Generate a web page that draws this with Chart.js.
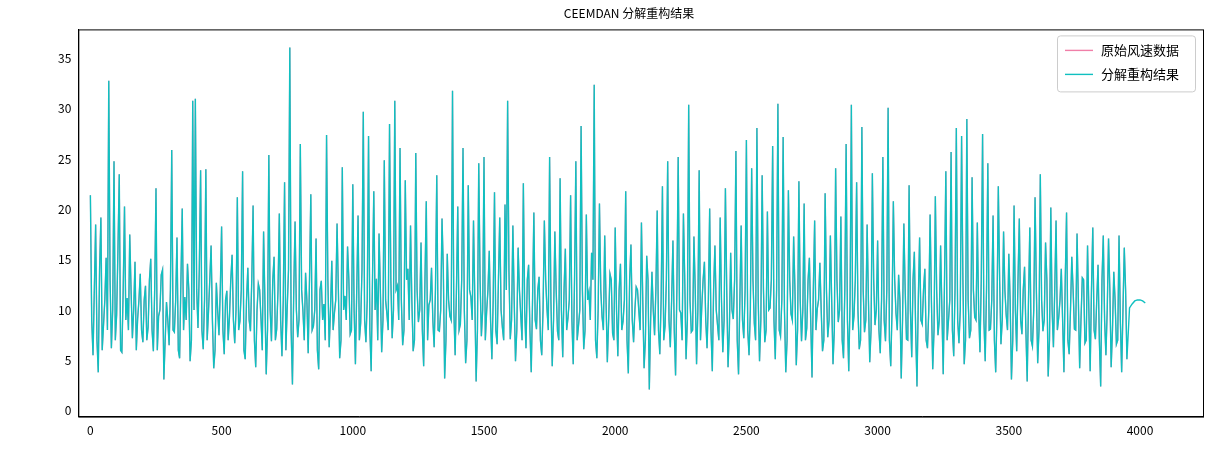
<!DOCTYPE html>
<html>
<head>
<meta charset="utf-8">
<script src="https://cdn.jsdelivr.net/npm/chart.js@4"></script>
<style>
  html, body { margin: 0; padding: 0; background: #fff; }
  #wrap { width: 1208px; height: 451px; }
</style>
</head>
<body>
<div id="wrap"><canvas id="c"></canvas></div>
<script>
// 风速序列，每 10 个采样点取一个
const STEP = 10;
const windSpeed = [
  21.4,5.5,18.5,3.8,19.2,8.5,15.2,32.8,6.2,24.8,9.5,23.5,5.8,20.3,11.2,17.5,7.2,14.8,9.1,13.6,
  6.8,12.4,8.3,15.1,5.9,22.1,9.4,13.5,3.1,10.8,6.5,25.9,7.8,17.2,5.2,20.1,11.3,14.6,4.9,30.8,
  31,8.2,23.9,6.1,24,9.8,16.4,4.2,12.7,7.5,18.3,5.6,11.9,9.3,15.5,6.7,21.2,8.9,23.8,5.1,
  14.2,7.9,20.4,4.3,12.6,9.2,17.8,3.6,25.4,6.9,15.3,8.1,19.6,5.4,22.7,10.2,36.1,2.6,18.8,7.3,
  26.5,9.9,13.7,5.7,21.5,8.4,17.1,4.1,12.9,10.6,27.4,6.3,14.9,9.7,18.6,5.2,24.2,11.4,16.3,7.6,
  22.5,4.6,19.4,8.7,29.7,6.8,27.3,3.9,21.8,13.1,17.6,5.8,24.9,9.6,28.5,7.2,30.8,12.4,26.1,6.5,
  22.9,14.1,18.4,5.9,25.6,8.8,16.7,4.4,20.8,10.5,14.2,6.3,23.4,7.9,19.1,3.2,15.6,9.4,31.8,5.5,
  20.3,8.6,26.1,4.7,22.4,11.3,18.9,2.9,24.6,7.4,25.2,9.8,15.9,5.1,21.7,6.6,19.2,8.3,20.5,30.8,
  7.1,18.4,4.9,16.2,9.5,22.6,6.2,14.5,3.8,19.7,8.1,13.3,5.5,18.9,10.1,25.2,4.4,17.8,7.9,23.1,
  5.3,16.1,9.2,21.4,4.6,24.8,8.4,28.3,6.1,19.5,11.8,15.7,32.4,5.2,20.6,9.3,17.4,4.8,13.6,7.7,
  18.2,5.4,14.6,8.9,21.8,3.7,16.5,6.8,12.3,9.9,18.7,4.2,15.4,2.1,13.8,7.5,19.9,5.6,22.3,8.4,
  24.8,6.3,16.9,3.5,25.2,9.7,19.6,5.1,30.4,7.8,17.3,4.6,23.9,10.4,14.8,6.2,20.1,3.9,16.4,8.5,
  19.2,5.8,22.1,4.3,15.7,9.1,25.8,3.6,18.4,7.2,26.9,5.5,24.1,8.7,28.1,4.9,23.4,6.8,19.8,10.2,
  26.3,5.1,30.5,7.4,27.2,3.8,21.9,9.6,17.3,4.5,22.8,6.9,20.6,8.2,15.2,3.3,18.9,10.1,14.7,5.9,
  21.6,7.3,17.4,4.6,24.1,8.8,19.3,5.2,26.5,3.9,30.4,9.4,22.7,6.1,28.2,7.8,18.5,4.8,23.6,8.5,
  16.9,5.7,25.2,6.9,30.1,4.4,20.8,9.7,13.5,3.2,18.6,7.1,22.4,5.3,15.8,2.4,17.2,8.6,14.1,6.2,
  19.5,4.1,21.3,7.5,16.4,3.6,23.8,8.9,25.7,5.4,28.1,6.7,27.3,4.6,29,7.2,23.2,9.3,18.7,5.8,
  27.5,4.9,24.6,8.1,19.4,3.8,22.3,6.6,17.8,9.5,15.6,3.1,20.4,5.9,19.1,7.6,14.3,2.9,18.2,6.4,
  21.2,4.7,23.5,7.9,16.7,3.4,20.2,6.3,18.9,9.2,14.1,3.8,19.7,5.6,15.3,8.1,17.6,4.2,13.2,6.7,
  16.4,3.9,18.2,7.1,14.5,2.4,17.4,5.5,17.1,4.3,13.8,6.6,17.4,3.8,16.2,5.1
];
// 两个取样点之间的中间值（x + 5 处）
const windSpeedMid = [
  9,12,7,14,6,11,8,13,10,7,16,6,12,9,8,12,10,6,11,8,
  11,7,13,8,12,6,10,14,7,9,12,8,11,6,13,8,9,12,7,10,
  12,14,8,11,7,13,9,6,10,12,8,11,7,13,9,10,8,12,6,11,
  9,13,7,10,12,6,11,8,10,13,7,12,9,11,6,14,8,12,10,9,
  12,7,11,13,8,10,6,12,9,7,13,10,8,11,12,7,10,9,13,8,
  10,12,7,14,9,11,8,13,10,7,12,9,11,8,13,10,12,9,11,8,
  13,9,11,7,12,10,8,13,7,11,9,12,8,10,14,7,11,9,10,12,
  8,13,10,7,12,9,11,8,13,10,7,12,9,11,8,13,10,7,12,14,
  9,11,8,12,7,10,13,8,11,9,12,7,10,13,8,11,9,12,7,10,
  12,8,11,9,13,7,10,12,8,11,9,13,7,10,12,8,11,9,13,7,
  10,12,8,11,7,13,9,10,12,8,11,7,13,9,10,12,8,11,7,13,
  9,11,8,12,10,7,13,9,11,8,12,10,7,13,9,11,8,12,10,7,
  11,9,12,8,10,13,7,11,9,12,8,10,13,7,11,9,12,8,10,13,
  9,12,8,11,10,7,13,9,12,8,11,10,7,13,9,12,8,11,10,7,
  12,9,11,8,13,10,7,12,9,11,8,13,10,7,12,9,11,8,13,10,
  8,11,9,12,7,10,13,8,11,9,12,7,10,13,8,11,9,12,7,10,
  11,8,12,9,10,13,7,11,8,12,9,10,13,7,11,8,12,9,10,13,
  9,12,8,11,7,10,13,9,12,8,11,7,10,13,9,12,8,11,7,10,
  12,8,11,9,13,7,10,12,8,11,9,13,7,10,12,8,11,9,13,7,
  10,12,8,11,7,13,9,10,12,8,11,7,9,10,12
];
// 末尾平滑段（只有重构结果有）
const reconTail = [10.2, 10.6, 10.9, 11.0, 11.0, 10.9, 10.7];

const yTicks = [0, 5, 10, 15, 20, 25, 30, 35];
const xTicks = [0, 500, 1000, 1500, 2000, 2500, 3000, 3500, 4000];
const legendNames = ['原始风速数据', '分解重构结果'];

const FONT = '"Noto Sans CJK SC", "Noto Sans", sans-serif';

// 交错合并：主取样点与中间值
const original = [];
windSpeed.forEach((v, i) => {
  original.push({ x: i * STEP, y: v });
  if (i < windSpeedMid.length) original.push({ x: i * STEP + STEP / 2, y: windSpeedMid[i] });
});
const recon = original.concat(reconTail.map((v, i) => ({ x: (windSpeed.length + i) * STEP, y: v })));

const COLORS = ['#f07fa8', '#10c0c0'];

// matplotlib 风格：四边框 + 右上角图例
const framePlugin = {
  id: 'frame',
  afterDraw(chart) {
    const { ctx, chartArea: a } = chart;
    ctx.save();
    ctx.strokeStyle = '#000';
    ctx.lineWidth = 1;
    ctx.strokeRect(a.left + 0.5, a.top + 0.5, a.right - a.left, a.bottom - a.top);

    const w = 138, h = 56, x0 = a.right - w - 8, y0 = a.top + 6;
    ctx.fillStyle = 'rgba(255,255,255,0.85)';
    ctx.strokeStyle = '#ccc';
    ctx.beginPath();
    ctx.roundRect(x0 + 0.5, y0 + 0.5, w, h, 3);
    ctx.fill();
    ctx.stroke();
    ctx.font = '13px ' + FONT;
    ctx.textBaseline = 'middle';
    legendNames.forEach((name, i) => {
      const y = y0 + 15 + i * 24;
      ctx.strokeStyle = COLORS[i];
      ctx.lineWidth = 1.4;
      ctx.beginPath();
      ctx.moveTo(x0 + 8, y);
      ctx.lineTo(x0 + 36, y);
      ctx.stroke();
      ctx.fillStyle = '#000';
      ctx.fillText(name, x0 + 44, y);
    });
    ctx.restore();
  }
};

new Chart(document.getElementById('c'), {
  type: 'line',
  data: {
    datasets: [
      { label: legendNames[0], data: original, borderColor: COLORS[0], borderWidth: 1.2, pointRadius: 0, tension: 0, order: 2 },
      { label: legendNames[1], data: recon, borderColor: COLORS[1], borderWidth: 1.4, pointRadius: 0, tension: 0, order: 1 }
    ]
  },
  options: {
    responsive: true,
    maintainAspectRatio: false,
    animation: false,
    layout: { padding: { left: 55, right: 5, top: 0, bottom: 10 } },
    plugins: {
      title: {
        display: true, text: 'CEEMDAN 分解重构结果', color: '#000',
        font: { family: FONT, size: 12, weight: 'normal' }, padding: { top: 6, bottom: 9 }
      },
      legend: { display: false },
      tooltip: { enabled: false }
    },
    scales: {
      x: {
        type: 'linear', min: -46, max: 4240,
        afterBuildTicks: s => { s.ticks = xTicks.map(v => ({ value: v })); },
        ticks: { color: '#000', font: { family: FONT, size: 12 }, callback: v => String(v) },
        grid: { display: false, drawTicks: true, tickLength: 4 },
        border: { color: '#000' }
      },
      y: {
        min: -0.6, max: 37.9,
        afterBuildTicks: s => { s.ticks = yTicks.map(v => ({ value: v })); },
        ticks: { color: '#000', font: { family: FONT, size: 12 }, callback: v => String(v) },
        grid: { display: false, drawTicks: true, tickLength: 4 },
        border: { color: '#000' }
      }
    }
  },
  plugins: [framePlugin]
});
</script>
</body>
</html>
